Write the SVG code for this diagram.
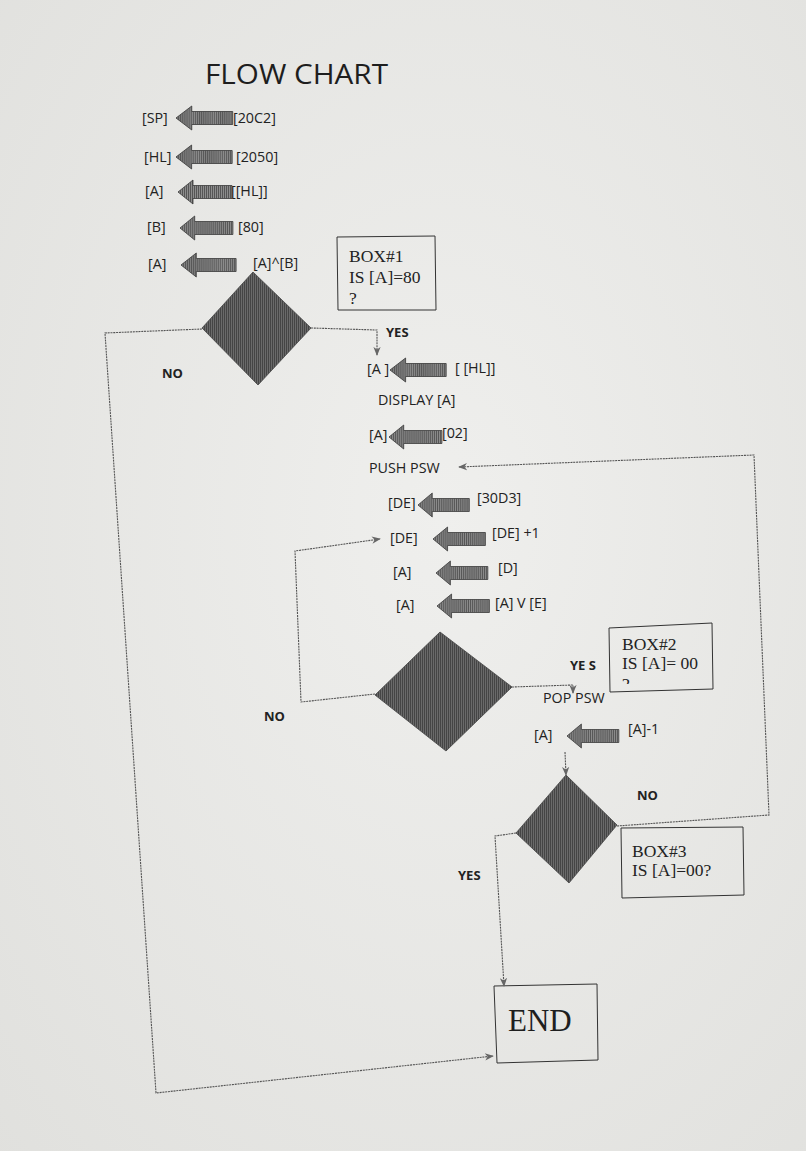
<svg xmlns="http://www.w3.org/2000/svg" width="806" height="1151" viewBox="0 0 806 1151">
<defs>
<radialGradient id="paper" cx="0.55" cy="0.45" r="0.8">
<stop offset="0" stop-color="#efefed"/>
<stop offset="1" stop-color="#e0e0dd"/>
</radialGradient>
<pattern id="hatch" width="2" height="4" patternUnits="userSpaceOnUse">
<rect width="2" height="4" fill="#8c8c8c"/>
<rect width="1" height="4" fill="#555"/>
</pattern>
<pattern id="hatchD" width="2" height="4" patternUnits="userSpaceOnUse">
<rect width="2" height="4" fill="#6a6a6a"/>
<rect width="1" height="4" fill="#454545"/>
</pattern>
<path id="barrow" d="M0,0 L15,-12 L15,-6.5 L54,-6.5 L54,6.5 L15,6.5 L15,12 Z"/>
<marker id="ah" viewBox="0 0 10 10" refX="9" refY="5" markerWidth="9" markerHeight="9" orient="auto" markerUnits="userSpaceOnUse">
<path d="M0,1 L10,5 L0,9 L3,5 Z" fill="#666"/>
</marker>
<clipPath id="clip2"><rect x="600" y="620" width="120" height="64"/></clipPath>
<style>
.s{font-family:"Open Sans","Liberation Sans",sans-serif;font-size:14.3px;fill:#222}
.b{font-family:"Open Sans","Liberation Sans",sans-serif;font-size:13px;font-weight:bold;fill:#222}
.t{font-family:"Liberation Serif","Times New Roman",serif;font-size:17.5px;fill:#222}
.ba{fill:url(#hatch);stroke:#3a3a3a;stroke-width:0.8}
.dia{fill:url(#hatchD);stroke:#444;stroke-width:0.8}
.box{fill:none;stroke:#333;stroke-width:1}
.c{fill:none;stroke:#555;stroke-width:1.1;stroke-dasharray:2 0.8}
</style>
</defs>
<rect width="806" height="1151" fill="url(#paper)"/>
<text x="205" y="84" font-family="'Open Sans','Liberation Sans',sans-serif" font-size="27" fill="#1e1e1e" textLength="183" lengthAdjust="spacingAndGlyphs">FLOW CHART</text>

<g id="init">
<g id="r1"><text class="s" x="142" y="123">[SP]</text><use href="#barrow" class="ba" transform="translate(176,118) scale(1.05,1)"/><text class="s" x="233" y="123">[20C2]</text></g>
<g id="r2"><text class="s" x="144" y="162">[HL]</text><use href="#barrow" class="ba" transform="translate(176,157) scale(1.04,1)"/><text class="s" x="236" y="162">[2050]</text></g>
<g id="r3"><text class="s" x="145" y="196">[A]</text><use href="#barrow" class="ba" transform="translate(178,192) scale(1.0,1)"/><text class="s" x="231" y="196">[[HL]]</text></g>
<g id="r4"><text class="s" x="147" y="232">[B]</text><use href="#barrow" class="ba" transform="translate(180,228) scale(0.98,1)"/><text class="s" x="238" y="232">[80]</text></g>
<g id="r5"><text class="s" x="148" y="269">[A]</text><use href="#barrow" class="ba" transform="translate(181,265) scale(1.02,1)"/><text class="s" x="253" y="268">[A]^[B]</text></g>
</g>

<g id="box1"><path class="box" d="M337,237 L435,236 L436,310 L338,310 Z"/><text class="t" x="349" y="262">BOX#1</text><text class="t" x="349" y="283">IS [A]=80</text><text class="t" x="349" y="304">?</text></g>
<g id="dec1"><path class="dia" d="M253,272 L311,328 L258,385 L202,328 Z"/></g>

<g id="body">
<g id="r6"><text class="s" x="367" y="374">[A ]</text><use href="#barrow" class="ba" transform="translate(390,370) scale(1.04,1)"/><text class="s" x="455" y="373">[ [HL]]</text></g>
<g id="r7"><text class="s" x="378" y="405">DISPLAY [A]</text></g>
<g id="r8"><text class="s" x="369" y="440">[A]</text><use href="#barrow" class="ba" transform="translate(389,437) scale(0.98,1)"/><text class="s" x="442" y="438">[02]</text></g>
<g id="r9"><text class="s" x="369" y="473">PUSH PSW</text></g>
<g id="r10"><text class="s" x="388" y="508">[DE]</text><use href="#barrow" class="ba" transform="translate(418,505) scale(0.95,1)"/><text class="s" x="477" y="503">[30D3]</text></g>
<g id="r11"><text class="s" x="390" y="543">[DE]</text><use href="#barrow" class="ba" transform="translate(433,539) scale(0.97,1)"/><text class="s" x="492" y="538">[DE] +1</text></g>
<g id="r12"><text class="s" x="393" y="577">[A]</text><use href="#barrow" class="ba" transform="translate(436,573) scale(0.96,1)"/><text class="s" x="498" y="573">[D]</text></g>
<g id="r13"><text class="s" x="396" y="610">[A]</text><use href="#barrow" class="ba" transform="translate(437,606) scale(0.97,1)"/><text class="s" x="495" y="608">[A] V [E]</text></g>
</g>

<g id="dec2"><path class="dia" d="M440,632 L512,687 L446,751 L375,695 Z"/></g>
<g id="box2"><path class="box" d="M609,628 L712,623 L713,689 L610,692 Z"/><g clip-path="url(#clip2)"><text class="t" x="622" y="650">BOX#2</text><text class="t" x="622" y="669">IS [A]= 00</text><text class="t" x="622" y="690">?</text></g></g>
<g id="pop"><text class="s" x="543" y="703">POP PSW</text></g>
<g id="r14"><text class="s" x="534" y="740">[A]</text><use href="#barrow" class="ba" transform="translate(567,736) scale(0.96,1)"/><text class="s" x="628" y="734">[A]-1</text></g>

<g id="dec3"><path class="dia" d="M566,775 L617,825 L569,883 L516,833 Z"/></g>
<g id="box3"><path class="box" d="M621,828 L743,827 L744,895 L622,898 Z"/><text class="t" x="632" y="857">BOX#3</text><text class="t" x="632" y="876">IS [A]=00?</text></g>

<g id="end"><path class="box" d="M494,986 L597,984 L598,1060 L497,1063 Z"/><text x="508" y="1031" font-family="'Liberation Serif','Times New Roman',serif" font-size="31" fill="#1e1e1e">END</text></g>

<g id="connectors">
<path class="c" d="M202,329 L105,333 L156,1093 L493,1056" marker-end="url(#ah)"/>
<path class="c" d="M311,328 L377,330 L377,355" marker-end="url(#ah)"/>
<path class="c" d="M617,826 L769,815 L754,455 L459,467" marker-end="url(#ah)"/>
<path class="c" d="M375,694 L301,702 L295,551 L380,539" marker-end="url(#ah)"/>
<path class="c" d="M512,687 L573,685 L573,693" marker-end="url(#ah)"/>
<path class="c" d="M565,752 L566,775" marker-end="url(#ah)"/>
<path class="c" d="M516,833 L495,836 L504,986" marker-end="url(#ah)"/>
</g>
<g id="labels">
<text class="b" x="162" y="378">NO</text>
<text class="b" x="386" y="337">YES</text>
<text class="b" x="264" y="721">NO</text>
<text class="b" x="570" y="670">YE S</text>
<text class="b" x="637" y="800">NO</text>
<text class="b" x="458" y="880">YES</text>
</g>
</svg>
